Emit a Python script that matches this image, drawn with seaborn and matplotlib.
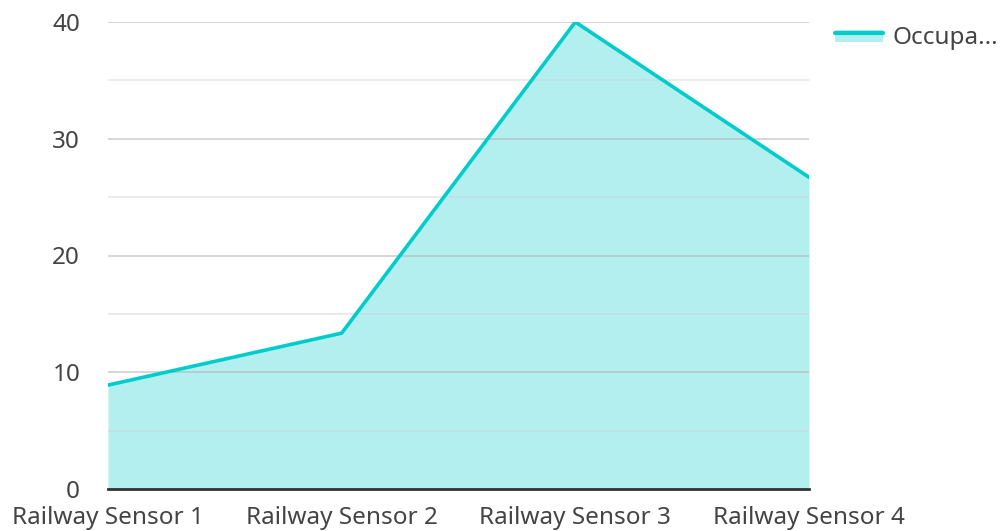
import matplotlib
matplotlib.use('Agg')
import matplotlib.pyplot as plt
import seaborn as sns
import pandas as pd
from matplotlib.patches import Rectangle
from matplotlib.lines import Line2D
from matplotlib.legend_handler import HandlerBase

sensors = ['Railway Sensor 1', 'Railway Sensor 2', 'Railway Sensor 3', 'Railway Sensor 4']
occupancy = [8.9, 13.35, 40.0, 26.7]
series_name = 'Occupa...'

line_color = '#00cccc'
fill_color = '#b2efee'


class AreaHandler(HandlerBase):
    # legend swatch: thin line on top of a light fill
    def create_artists(self, legend, orig_handle, xdescent, ydescent, width, height, fontsize, trans):
        top = height * 0.95
        rect = Rectangle((-xdescent, -ydescent), width, top, facecolor=fill_color,
                         edgecolor='none', transform=trans)
        ln = Line2D([-xdescent, -xdescent + width], [top - 1, top - 1], color=line_color,
                    lw=3, transform=trans)
        return [rect, ln]


sns.set_theme(style='white')
plt.rcParams['font.family'] = ['Noto Sans', 'DejaVu Sans']

df = pd.DataFrame({'pos': range(len(sensors)), 'sensor': sensors, 'value': occupancy})

fig = plt.figure(figsize=(10.01, 5.31), dpi=100)
ax = fig.add_axes([108 / 1001, 42 / 531, 701 / 1001, 467 / 531])

ax.fill_between(df['pos'], df['value'], color=fill_color, lw=0, zorder=1)
sns.lineplot(data=df, x='pos', y='value', ax=ax, color=line_color, lw=2.6, zorder=3)

ax.set_xlim(0, len(sensors) - 1)
ax.set_ylim(0, 40)
ax.set_xticks(df['pos'])
ax.set_xticklabels(sensors)
ax.set_yticks([0, 10, 20, 30, 40])
ax.set_xlabel('')
ax.set_ylabel('')

for y in [10, 20, 30, 40]:
    ax.axhline(y, color='#b0b0b0', lw=1.1, alpha=0.65, zorder=2)
for y in [5, 15, 25, 35]:
    ax.axhline(y, color='#d0d0d0', lw=1.1, alpha=0.55, zorder=2)

for s in ['top', 'right', 'left']:
    ax.spines[s].set_visible(False)
ax.spines['bottom'].set_color('#333333')
ax.spines['bottom'].set_linewidth(2)
ax.spines['bottom'].set_zorder(4)

ax.tick_params(axis='both', which='both', length=0, labelsize=17.5, colors='#444444')
ax.tick_params(axis='x', pad=12)
ax.tick_params(axis='y', pad=20)

fig.legend([object()], [series_name], handler_map={object: AreaHandler()},
           loc='upper left', bbox_to_anchor=(0.812, 0.992),
           frameon=False, fontsize=17.5, handlelength=2.0, handleheight=0.45,
           handletextpad=0.38, labelcolor='#444444')

fig.savefig('out.png', dpi=100)
